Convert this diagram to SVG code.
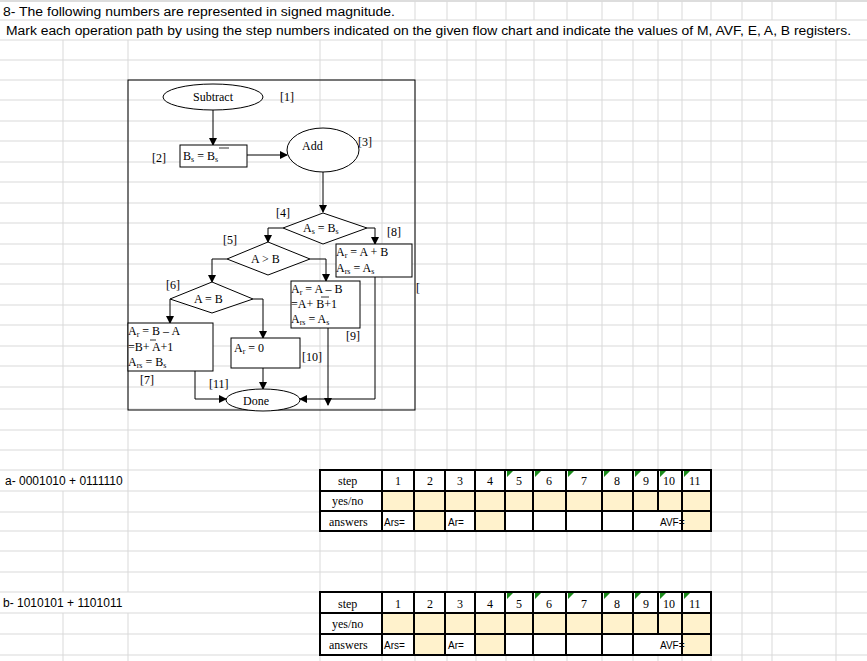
<svg xmlns="http://www.w3.org/2000/svg" width="867" height="661" viewBox="0 0 867 661">
<defs>
<style>
.g{stroke:#d9d9d9;stroke-width:1}
.c{stroke:#000;stroke-width:1;fill:none}
.s{fill:#fff;stroke:#000;stroke-width:1}
.t{font-family:"Liberation Serif",serif;font-size:12px;fill:#000}
.sub{font-size:8px}
.k{font-family:"Liberation Sans",sans-serif;font-size:12px;fill:#000}
.tb{stroke:#000;stroke-width:2;fill:none}
.p{fill:#fff2cc}
.gr{fill:#1a8a1a}
.sm{font-family:"Liberation Sans",sans-serif;font-size:10px;fill:#000}
</style>
<marker id="a" markerWidth="8" markerHeight="8" refX="7" refY="4" orient="auto" markerUnits="userSpaceOnUse"><path d="M0,0 L8,4 L0,8 z" fill="#000"/></marker>
<clipPath id="cl"><rect x="0" y="470" width="127" height="21"/></clipPath>
</defs>
<rect width="867" height="661" fill="#fff"/>
<g id="grid">
<line class="g" x1="0" y1="1" x2="867" y2="1" style="stroke:#bbb"/>
<path class="g" d="M0 20H867M0 40H867M0 60H867M0 80H867M0 100H867M0 121H867M0 141H867M0 162H867M0 182H867M0 203H867M0 223H867M0 244H867M0 264H867M0 284H867M0 305H867M0 325H867M0 346H867M0 366H867M0 387H867M0 409H867M0 430H867M0 450H867M0 470H867M0 491H867M0 512H867M0 531H867M0 551H867M0 572H867M0 592H867M0 613H867M0 634H867M0 655H867"/>
<path class="g" d="M415 1V20M447 1V20M476 1V20M506 1V20M534 1V20M567 1V20M602 1V20M633 1V20M658 1V20M682 1V20M711 1V20M742 1V20M772 1V20M836 1V20"/>
<path class="g" d="M63 40V470M63 491V592M63 613V661M128 40V592M128 613V661M320 40V661M382 40V661M415 40V661M447 40V661M476 40V661M506 40V661M534 40V661M567 40V661M602 40V661M633 40V661M658 40V661M682 40V661M711 40V661M742 40V661M772 40V661M836 40V661"/>
</g>
<text class="k" x="3" y="16" textLength="392" lengthAdjust="spacingAndGlyphs">8- The following numbers are represented in signed magnitude.</text>
<text class="k" x="6" y="35" textLength="845" lengthAdjust="spacingAndGlyphs">Mark each operation path by using the step numbers indicated on the given flow chart and indicate the values of M, AVF, E, A, B registers.</text>
<rect x="128" y="80" width="287" height="330" fill="none" stroke="#000"/>
<g id="connectors" class="c">
<path d="M213 110V145" marker-end="url(#a)"/>
<path d="M247 155H287" marker-end="url(#a)"/>
<path d="M323 172V212" marker-end="url(#a)"/>
<path d="M283 228H268V242" marker-end="url(#a)"/>
<path d="M367 228H375V244" marker-end="url(#a)"/>
<path d="M227 259H212V282" marker-end="url(#a)"/>
<path d="M310 259H326V281" marker-end="url(#a)"/>
<path d="M170 299H170V323" marker-end="url(#a)"/>
<path d="M253 299H263V338" marker-end="url(#a)"/>
<path d="M263 368V389" marker-end="url(#a)"/>
<path d="M195 371V399H226" marker-end="url(#a)"/>
<path d="M328 328V405" marker-end="url(#a)"/>
<path d="M375 277V399H300" marker-end="url(#a)"/>
<path d="M311 161L318 167L311 170z" fill="#000"/>
</g>
<g id="n1"><ellipse class="s" cx="213" cy="97" rx="50" ry="13"/><text class="t" x="193" y="101">Subtract</text><text class="t" x="280" y="101">[1]</text></g>
<g id="n2"><rect class="s" x="180" y="145" width="67" height="22"/><text class="t" x="183" y="160">B<tspan class="sub" dy="2">s</tspan><tspan dy="-2"> =  B</tspan><tspan class="sub" dy="2">s</tspan></text><line x1="219" y1="148" x2="229" y2="148" stroke="#000" stroke-width="0.8"/><text class="t" x="152" y="162">[2]</text></g>
<g id="n3"><ellipse class="s" cx="323" cy="150" rx="36" ry="22"/><text class="t" x="302" y="150">Add</text><text class="t" x="358" y="146">[3]</text></g>
<g id="n4"><path class="s" d="M283 228L323 213L367 228L323 244z"/><text class="t" x="303" y="232">A<tspan class="sub" dy="2">s</tspan><tspan dy="-2"> = B</tspan><tspan class="sub" dy="2">s</tspan></text><text class="t" x="276" y="217">[4]</text></g>
<g id="n5"><path class="s" d="M227 259L268 242L310 259L268 275z"/><text class="t" x="251" y="263">A &gt; B</text><text class="t" x="223" y="244">[5]</text></g>
<g id="n6"><path class="s" d="M170 299L212 282L253 299L212 313z"/><text class="t" x="194" y="303">A = B</text><text class="t" x="166" y="289">[6]</text></g>
<g id="n7"><rect class="s" x="128" y="323" width="85" height="48"/><text class="t" x="128" y="335">A<tspan class="sub" dy="2">r</tspan><tspan dy="-2"> = B – A</tspan></text><text class="t" x="128" y="351">=B+  A+1</text><line x1="150" y1="340" x2="156" y2="340" stroke="#000" stroke-width="0.8"/><text class="t" x="128" y="366">A<tspan class="sub" dy="2">rs</tspan><tspan dy="-2"> = B</tspan><tspan class="sub" dy="2">s</tspan></text><text class="t" x="140" y="384">[7]</text></g>
<g id="n8"><rect class="s" x="336" y="244" width="76" height="33"/><text class="t" x="336" y="256">A<tspan class="sub" dy="2">r</tspan><tspan dy="-2"> = A + B</tspan></text><text class="t" x="336" y="272">A<tspan class="sub" dy="2">rs</tspan><tspan dy="-2"> = A</tspan><tspan class="sub" dy="2">s</tspan></text><text class="t" x="387" y="236">[8]</text></g>
<g id="n9"><rect class="s" x="291" y="281" width="69" height="47"/><text class="t" x="291" y="293">A<tspan class="sub" dy="2">r</tspan><tspan dy="-2"> = A – B</tspan></text><text class="t" x="291" y="308">=A+  B+1</text><line x1="321" y1="297" x2="329" y2="297" stroke="#000" stroke-width="0.8"/><text class="t" x="291" y="323">A<tspan class="sub" dy="2">rs</tspan><tspan dy="-2"> = A</tspan><tspan class="sub" dy="2">s</tspan></text><text class="t" x="346" y="340">[9]</text></g>
<g id="n10"><rect class="s" x="231" y="338" width="69" height="30"/><text class="t" x="234" y="352">A<tspan class="sub" dy="2">r</tspan><tspan dy="-2"> = 0</tspan></text><text class="t" x="302" y="361">[10]</text></g>
<g id="n11"><ellipse class="s" cx="263" cy="400" rx="37" ry="11"/><text class="t" x="243" y="405">Done</text><text class="t" x="209" y="388">[11]</text></g>
<text class="t" x="416" y="292">[</text>
<rect x="0" y="471" width="127" height="19" fill="#fff"/>
<text class="k" x="5" y="485" clip-path="url(#cl)">a- 0001010 + 0111110</text>
<rect x="0" y="593" width="130" height="19" fill="#fff"/>
<text class="k" x="3" y="607">b- 1010101 + 1101011</text>
<g id="tableA">
<rect x="320" y="470" width="391" height="61" fill="#fff"/>
<rect class="p" x="382" y="491" width="329" height="20"/>
<rect class="p" x="415" y="511" width="30" height="20"/><rect class="p" x="475" y="511" width="30" height="20"/><rect class="p" x="682" y="511" width="29" height="20"/>
<path class="tb" d="M320 470H711V531H320zM320 491H711M320 511H711M382 470V531M414 470V531M445 470V531M475 470V531M505 470V531M533 470V531M566 470V531M602 470V531M633 470V531M658 470V511M682 470V531"/>
<path class="gr" d="M507 471h6l-6 6zM535 471h6l-6 6zM568 471h6l-6 6zM604 471h6l-6 6zM635 471h6l-6 6zM660 471h6l-6 6zM684 471h6l-6 6z"/>
<g class="t"><text x="338" y="485">step</text><text x="395" y="485">1</text><text x="427" y="485">2</text><text x="457" y="485">3</text><text x="487" y="485">4</text><text x="516" y="485">5</text><text x="546" y="485">6</text><text x="581" y="485">7</text><text x="614" y="485">8</text><text x="643" y="485">9</text><text x="663" y="485">10</text><text x="689" y="485">11</text><text x="332" y="505">yes/no</text><text x="329" y="526">answers</text></g>
<g class="sm"><text x="384" y="526">Ars=</text><text x="448" y="526">Ar=</text><text x="660" y="526">AVF=</text></g>
</g>
<g id="tableB">
<rect x="320" y="592" width="391" height="63" fill="#fff"/>
<rect class="p" x="382" y="613" width="329" height="21"/>
<rect class="p" x="415" y="634" width="30" height="21"/><rect class="p" x="475" y="634" width="30" height="21"/><rect class="p" x="682" y="634" width="29" height="21"/>
<path class="tb" d="M320 592H711V655H320zM320 613H711M320 634H711M382 592V655M414 592V655M445 592V655M475 592V655M505 592V655M533 592V655M566 592V655M602 592V655M633 592V655M658 592V634M682 592V655"/>
<path class="gr" d="M507 593h6l-6 6zM535 593h6l-6 6zM568 593h6l-6 6zM604 593h6l-6 6zM635 593h6l-6 6zM660 593h6l-6 6zM684 593h6l-6 6z"/>
<g class="t"><text x="338" y="608">step</text><text x="395" y="608">1</text><text x="427" y="608">2</text><text x="457" y="608">3</text><text x="487" y="608">4</text><text x="516" y="608">5</text><text x="546" y="608">6</text><text x="581" y="608">7</text><text x="614" y="608">8</text><text x="643" y="608">9</text><text x="663" y="608">10</text><text x="689" y="608">11</text><text x="332" y="628">yes/no</text><text x="329" y="649">answers</text></g>
<g class="sm"><text x="384" y="649">Ars=</text><text x="448" y="649">Ar=</text><text x="660" y="649">AVF=</text></g>
</g>
</svg>
